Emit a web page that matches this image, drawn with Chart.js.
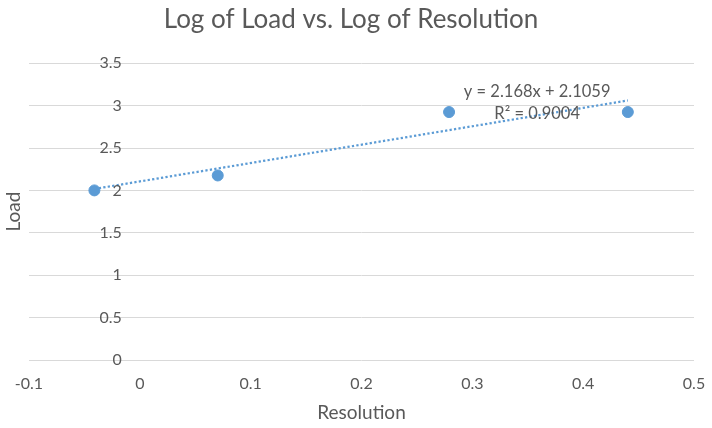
<!DOCTYPE html>
<html>
<head>
<meta charset="utf-8">
<script src="https://cdn.jsdelivr.net/npm/chart.js@4.4.1/dist/chart.umd.min.js"></script>
<style>
  html, body { margin: 0; padding: 0; background: #fff; }
  #wrap { width: 712px; height: 428px; }
</style>
</head>
<body>
<div id="wrap"><canvas id="chart"></canvas></div>
<script>
// data (log values)
const resolution = [-0.041, 0.0703, 0.279, 0.4403];
const load = [2.0, 2.176, 2.924, 2.924];

// trendline as printed in the chart: y = slope*x + intercept
const trendSlope = 2.168;
const trendIntercept = 2.1059;
const trendText = ['y = 2.168x + 2.1059', 'R² = 0.9004'];

const xTicks = { min: -0.1, max: 0.5, step: 0.1 };
const yTicks = { min: 0, max: 3.5, step: 0.5 };

const FONT = 'Lato, "Open Sans", sans-serif';
const GREY = '#595959';
const BLUE = '#5b9bd5';

const points = resolution.map((x, i) => ({x: x, y: load[i]}));
const xFirst = Math.min(...resolution);
const xLast = Math.max(...resolution);
const trend = [
    {x: xFirst, y: trendSlope * xFirst + trendIntercept},
    {x: xLast, y: trendSlope * xLast + trendIntercept}
];

const fmt = v => String(Math.round(v * 10) / 10);

// y tick labels sit next to x = 0, like the source chart; "Load" title on the far left
const extrasPlugin = {
    id: 'extras',
    afterDraw(chart) {
        const ctx = chart.ctx;
        const xs = chart.scales.x;
        const ys = chart.scales.y;
        const area = chart.chartArea;
        ctx.save();
        ctx.fillStyle = GREY;
        ctx.font = '16px ' + FONT;
        ctx.textAlign = 'right';
        ctx.textBaseline = 'middle';
        const x0 = xs.getPixelForValue(0) - 18;
        ys.ticks.forEach(t => {
            ctx.fillText(fmt(t.value), x0, ys.getPixelForValue(t.value));
        });

        // axis title
        ctx.font = '19px ' + FONT;
        ctx.textAlign = 'center';
        ctx.translate(14, (area.top + area.bottom) / 2);
        ctx.rotate(-Math.PI / 2);
        ctx.fillText('Load', 0, 0);
        ctx.restore();

        // trendline equation
        ctx.save();
        ctx.fillStyle = GREY;
        ctx.font = '16.5px ' + FONT;
        ctx.textAlign = 'center';
        ctx.textBaseline = 'middle';
        const lx = xs.getPixelForValue(0.3585);
        const ly = ys.getPixelForValue(3.165);
        ctx.fillText(trendText[0], lx, ly);
        ctx.fillText(trendText[1], lx, ly + 22);
        ctx.restore();
    }
};

new Chart(document.getElementById('chart'), {
    type: 'scatter',
    data: {
        datasets: [
            {
                label: 'Trend',
                type: 'line',
                data: trend,
                borderColor: BLUE,
                borderWidth: 2.25,
                borderDash: [2.25, 2.25],
                pointRadius: 0,
                fill: false,
                order: 0
            },
            {
                label: 'Load',
                data: points,
                backgroundColor: BLUE,
                borderColor: BLUE,
                pointRadius: 5.5,
                order: 1
            }
        ]
    },
    options: {
        responsive: true,
        maintainAspectRatio: false,
        animation: false,
        layout: { padding: { left: 8, right: 18, top: 0, bottom: 0 } },
        plugins: {
            legend: { display: false },
            tooltip: { enabled: false },
            title: {
                display: true,
                text: 'Log of Load vs. Log of Resolution',
                color: GREY,
                font: { family: FONT, size: 26, weight: 'normal' },
                padding: { top: 4, bottom: 28 }
            }
        },
        scales: {
            x: {
                type: 'linear',
                min: xTicks.min,
                max: xTicks.max,
                grid: { display: false, drawTicks: false },
                border: { display: false },
                ticks: {
                    stepSize: xTicks.step,
                    color: GREY,
                    padding: 14.4,
                    font: { family: FONT, size: 16 },
                    callback: fmt
                },
                title: {
                    display: true,
                    text: 'Resolution',
                    color: GREY,
                    font: { family: FONT, size: 19 },
                    padding: { top: 0, bottom: 3.6 }
                },
                afterFit(scale) {
                    scale.height = 68;
                    scale.paddingLeft = 0;
                    scale.paddingRight = 0;
                }
            },
            y: {
                min: yTicks.min,
                max: yTicks.max,
                grid: { color: '#d9d9d9', lineWidth: 1, drawTicks: false },
                border: { display: false },
                ticks: { stepSize: yTicks.step, display: false },
                afterFit(scale) { scale.width = 21; }
            }
        }
    },
    plugins: [extrasPlugin]
});
</script>
</body>
</html>
